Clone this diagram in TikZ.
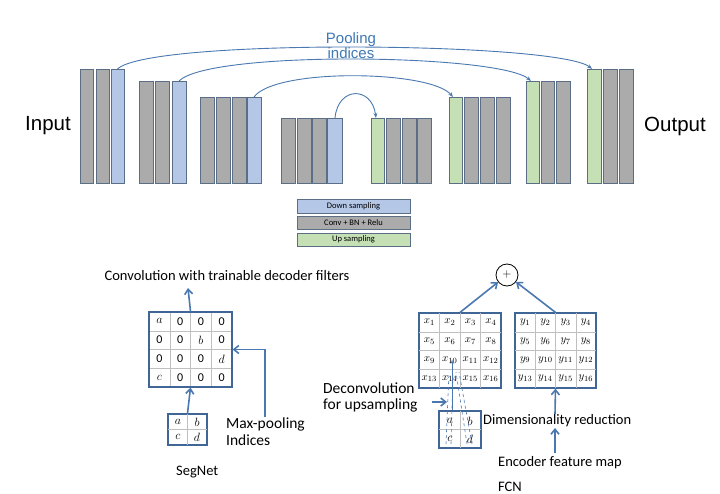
\documentclass[tikz,border=0pt]{standalone}
\usepackage{fontspec}
\setmainfont{Carlito}
\newfontfamily\arialf{Liberation Sans}
\usetikzlibrary{arrows.meta}
\definecolor{bgray}{HTML}{ABABAB}
\definecolor{bblue}{HTML}{B4C7E7}
\definecolor{bgreen}{HTML}{C5E0B4}
\definecolor{edge}{HTML}{5A6E86}
\definecolor{ablue}{HTML}{4A78B0}
\definecolor{tblue}{HTML}{3E79B5}
\begin{document}
\begin{tikzpicture}[x=1pt,y=-1pt,
  bar/.style={draw=edge,line width=0.8pt},
  arc/.style={draw=ablue,line width=0.9pt,-{Stealth[length=5pt]}},
  bigarr/.style={draw=ablue,line width=1.6pt,-{Straight Barb[length=5pt,width=8pt]}},
  grid/.style={draw=black!25,line width=0.4pt},
  frame/.style={draw=ablue!85!black,line width=1.2pt},
  lbl/.style={font=\fontsize{14.5}{16}\selectfont,inner sep=0pt},
  big/.style={font=\fontsize{15.5}{16}\selectfont,inner sep=0pt},
  ent/.style={font=\fontsize{12}{12}\selectfont,inner sep=0pt},
  xent/.style={font=\fontsize{11}{11}\selectfont,inner sep=0pt},
  leg/.style={draw=edge,minimum width=113pt,minimum height=13.5pt,inner sep=0pt,font=\fontsize{8.5}{9}\selectfont}]
\useasboundingbox (0,0) rectangle (720,494);
\fill[white] (0,0) rectangle (720,494);
% bars
\newcommand{\bbar}[4]{\filldraw[bar,fill=#4] (#1,#3) rectangle (#2,183);}
\bbar{80}{93}{69}{bgray}\bbar{96}{109}{69}{bgray}\bbar{111}{124}{69}{bblue}
\bbar{139}{153}{81}{bgray}\bbar{155}{169}{81}{bgray}\bbar{172}{186}{81}{bblue}
\bbar{200}{214}{97}{bgray}\bbar{216}{230}{97}{bgray}\bbar{232}{246}{97}{bgray}\bbar{247}{261}{97}{bblue}
\bbar{281}{295}{118}{bgray}\bbar{297}{311}{118}{bgray}\bbar{312}{326}{118}{bgray}\bbar{327}{342}{118}{bblue}
\bbar{371}{384}{118}{bgreen}\bbar{386}{400}{118}{bgray}\bbar{402}{416}{118}{bgray}\bbar{417}{431}{118}{bgray}
\bbar{449}{462}{97}{bgreen}\bbar{464}{478}{97}{bgray}\bbar{480}{494}{97}{bgray}\bbar{496}{510}{97}{bgray}
\bbar{526}{539}{81}{bgreen}\bbar{541}{554}{81}{bgray}\bbar{556}{570}{81}{bgray}
\bbar{587}{601}{69}{bgreen}\bbar{603}{617}{69}{bgray}\bbar{619}{633}{69}{bgray}
\coordinate (s1) at (117.5,69); \coordinate (e1) at (592,69);
\coordinate (s2) at (179,81); \coordinate (e2) at (531,81);
\coordinate (s3) at (254,97); \coordinate (e3) at (453,97);
\coordinate (s4) at (335,118); \coordinate (e4) at (376,118);
\draw[arc] (s1) .. controls (150,38) and (560,42) .. (e1);
\draw[arc] (s2) .. controls (210,50) and (500,54) .. (e2);
\draw[arc] (s3) .. controls (275,68) and (430,70) .. (e3);
\draw[arc] (s4) .. controls (338,86) and (372,86) .. (e4);
\node[font=\arialf\fontsize{15}{16}\selectfont,text=tblue,align=center,inner sep=0pt] (pi) at (351,46) {Pooling\\[-1pt]indices};
\node[font=\arialf\fontsize{20.5}{22}\selectfont,inner sep=0pt] (in) at (48,126) {Input};
\node[font=\arialf\fontsize{20.5}{22}\selectfont,inner sep=0pt] (out) at (675,126) {Output};
% legend
\node[leg,fill=bblue] (l1) at (353.5,206) {Down sampling};
\node[leg,fill=bgray] (l2) at (353.5,222.5) {Conv + BN + Relu};
\node[leg,fill=bgreen] (l3) at (353.5,239.5) {Up sampling};
% SegNet
\foreach \i in {1,2,3} {\draw[grid] (149+20.75*\i,312) -- (149+20.75*\i,387); \draw[grid] (149,312+18.75*\i) -- (232,312+18.75*\i);}
\node[frame,minimum width=83pt,minimum height=75pt,inner sep=0pt] (sm) at (190.5,349.5) {};
\foreach \r [count=\y] in {{$a$,0,0,0},{0,0,$b$,0},{0,0,0,$d$},{$c$,0,0,0}}
  \foreach \e [count=\x] in \r
    \node[ent] at (149+20.75*\x-10.4,312+18.75*\y-9.4) {\e};
\node[frame,minimum width=39pt,minimum height=31pt,inner sep=0pt] (ss) at (187.5,429.5) {};
\draw[grid] (187.5,414) -- (187.5,445) (168,429.5) -- (207,429.5);
\node[ent] at (178,422) {$a$};\node[ent] at (197,422) {$b$};
\node[ent] at (178,437) {$c$};\node[ent] at (197,437) {$d$};
\coordinate (ct) at (188,288);
\draw[bigarr] (ss.north) -- (sm.south);
\draw[bigarr] (sm.north) -- (ct);
\coordinate (mp) at (265,417);
\draw[bigarr] (mp) |- (sm.east);
\node[lbl,anchor=center] (cl) at (227,276) {Convolution with trainable decoder filters};
\node[big,anchor=west,align=left] (mpl) at (226,431.5) {Max-pooling\\[1pt]Indices};
\node[lbl,anchor=west] (sg) at (176,472) {SegNet};
% FCN
\node[frame,minimum width=82pt,minimum height=75pt,inner sep=0pt] (xm) at (460,350.5) {};
\node[frame,minimum width=81pt,minimum height=75pt,inner sep=0pt] (ym) at (555.5,350.5) {};
\foreach \i in {1,2,3} {
 \draw[grid] (419+20.5*\i,313) -- (419+20.5*\i,388); \draw[grid] (419,313+18.75*\i) -- (501,313+18.75*\i);
 \draw[grid] (515+20.25*\i,313) -- (515+20.25*\i,388); \draw[grid] (515,313+18.75*\i) -- (596,313+18.75*\i);}
\foreach \y in {1,...,4} \foreach \x in {1,...,4} {
  \pgfmathtruncatemacro\k{4*(\y-1)+\x}
  \node[xent] at (419+20.5*\x-10.25,313+18.75*\y-9.4) {$x_{\k}$};
  \node[xent] at (515+20.25*\x-10.1,313+18.75*\y-9.4) {$y_{\k}$};}
\node[draw=black,circle,minimum size=22pt,inner sep=0pt,line width=0.8pt,font=\fontsize{12}{12}\selectfont] (pl) at (507,275) {$+$};
\draw[bigarr] (xm.north) -- (pl);
\draw[bigarr] (ym.north) -- (pl);
\node[frame,minimum width=42pt,minimum height=37pt,inner sep=0pt] (fs) at (460,429.5) {};
\draw[grid] (460,411) -- (460,448) (439,429.5) -- (481,429.5);
\node[ent] at (450,421) {$a$};\node[ent] at (470,421) {$b$};
\node[ent] at (450,439) {$c$};\node[ent] at (470,439) {$d$};
\draw[ablue,dashed,line width=0.6pt] (446,444) -- (449,372) (451,444) -- (453,372) (467,444) -- (456,372) (472,444) -- (459,372);
\draw[ablue,line width=0.8pt,-{Stealth[length=4pt]}] (452,410) -- (452,360);
\coordinate (dc) at (432,402);
\draw[bigarr] (dc) -- (447,402);
\node[big,anchor=west,align=left] (dl) at (323,397) {Deconvolution\\[0pt]for upsampling};
\node[lbl,anchor=west] (dr) at (483,421) {Dimensionality reduction};
\draw[bigarr] (555,414) -- (ym.south);
\node[lbl,anchor=west] (ef) at (498,463) {Encoder feature map};
\draw[bigarr] (555,453) -- (555,428);
\node[lbl,anchor=west] (fc) at (498,487) {FCN};
\end{tikzpicture}
\end{document}
